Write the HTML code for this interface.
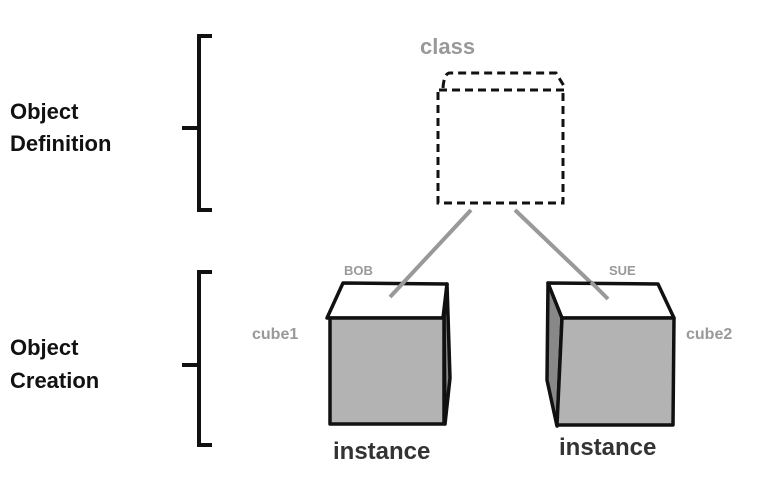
<!DOCTYPE html>
<html><head><style>body{margin:0;background:#fff}svg{display:block}</style></head><body>
<svg width="761" height="487" viewBox="0 0 761 487" xmlns="http://www.w3.org/2000/svg" font-family="Liberation Sans, sans-serif" font-weight="bold">
<g fill="none" stroke="#111" stroke-width="4">
<path d="M212 36H199V210H212M182 128H199"/>
<path d="M212 272H199V445H212M182 365H199"/>
</g>
<g font-size="22" fill="#111">
<text x="10" y="119">Object</text><text x="10" y="151">Definition</text>
<text x="10" y="355">Object</text><text x="10" y="388">Creation</text>
</g>
<text x="420" y="54" font-size="22" fill="#999">class</text>
<g fill="none" stroke="#111" stroke-width="3" stroke-dasharray="8,5">
<path d="M439 90H564"/>
<path d="M443 88Q444 73 450 73H556L564 86"/>
<path d="M438 92V203H563V90"/>
</g>
<g stroke="#999" stroke-width="4">
<line x1="471" y1="210" x2="390" y2="297"/>
<line x1="515" y1="210" x2="608" y2="299"/>
</g>
<g stroke="#111" stroke-width="3.5" stroke-linejoin="round">
<polygon points="327,318 343,283 447,284 443,318" fill="#fff"/>
<polygon points="444,318 447,284 450,378 445,424" fill="#888"/>
<rect x="330" y="318" width="114" height="106" fill="#b3b3b3"/>
<polygon points="548,283 562,318 557,426 547,380" fill="#888"/>
<polygon points="548,283 658,284 674,318 562,318" fill="#fff"/>
<polygon points="562,318 674,318 673,425 557,425" fill="#b3b3b3"/>
</g>
<g stroke="#999" stroke-width="4">
<line x1="405" y1="281" x2="390" y2="297"/>
<line x1="591" y1="282" x2="608" y2="299"/>
</g>
<g font-size="13" fill="#999">
<text x="344" y="275">BOB</text><text x="609" y="275">SUE</text>
</g>
<g font-size="16" fill="#999">
<text x="252" y="339">cube1</text><text x="686" y="339">cube2</text>
</g>
<g font-size="24" fill="#333">
<text x="333" y="459">instance</text><text x="559" y="455">instance</text>
</g>
</svg>
</body></html>
